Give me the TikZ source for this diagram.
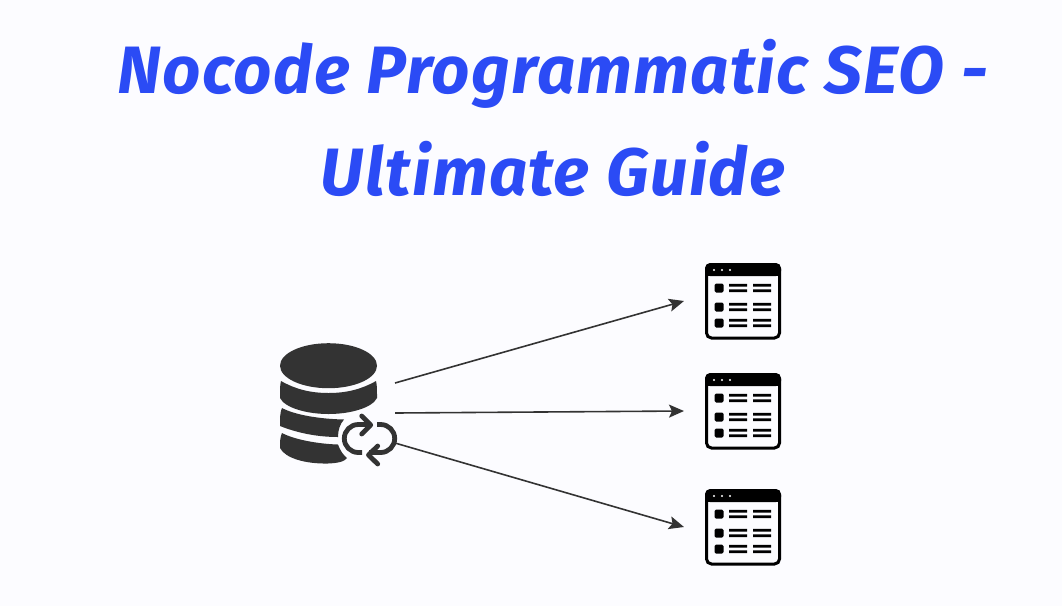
\documentclass[tikz,border=0pt]{standalone}
\usepackage{fontspec}
\newfontfamily\titlefont{Fira Sans}[ItalicFont={Fira Sans Italic},BoldItalicFont={Fira Sans Bold Italic},LetterSpace=2]
\usetikzlibrary{arrows.meta}
\definecolor{bgc}{HTML}{FCFCFF}
\definecolor{ink}{HTML}{333333}
\definecolor{titleblue}{HTML}{2B4BF5}
\tikzset{
  x=1pt,y=-1pt,
  titletext/.style={text=titleblue,inner sep=0pt,anchor=base,font=\titlefont\bfseries\itshape\fontsize{67}{67}\selectfont},
  link/.style={draw=ink,line width=1.6pt,-{Stealth[length=15pt,width=13pt,inset=3pt]}},
  syncline/.style={draw=ink,line width=4.8pt},
  syncchev/.style={draw=ink,line width=4.8pt,line cap=round,line join=round},
  anchorbox/.style={draw=none,inner sep=0pt,outer sep=0pt,minimum width=#1},
  pagepic/.pic={
    \draw[line width=3pt,rounded corners=5pt] (-36.5,-36.5) rectangle (36.5,37);
    \fill[rounded corners=5pt] (-38,-25) -- (-38,-38) -- (38,-38) -- (38,-25) -- cycle;
    \fill (-38,-28) rectangle (38,-25);
    \fill[white] (-29,-31) circle (1.2) (-21,-31) circle (1.2) (-13,-31) circle (1.2);
    \foreach \r in {-13,6,22}{
      \fill[rounded corners=1.5pt] (-28.5,\r-4.5) rectangle (-19.5,\r+4.5);
      \fill (-14,\r-4.2) rectangle (4,\r-1.3) (-14,\r+1.3) rectangle (4,\r+4.2);
      \fill (10,\r-4.2) rectangle (28,\r-1.3) (10,\r+1.3) rectangle (28,\r+4.2);
    }
  }
}
\begin{document}
\begin{tikzpicture}
\useasboundingbox[fill=bgc] (0,0) rectangle (1062,606);
\node[titletext] (t1) at (552.5,93) {Nocode Programmatic SEO -};
\node[titletext] (t2) at (553,195) {Ultimate Guide};
% database
\fill[ink] (328.5,365.7) ellipse (48.5 and 22.5);
\fill[ink] (281,381) .. controls (295,389) and (310,393) .. (328.5,393) .. controls (347,393) and (362,389) .. (376,381) .. controls (377,385) and (377,388) .. (377,398) .. controls (372,408) and (350,414) .. (328.5,414) .. controls (307,414) and (285,408) .. (280,398) .. controls (280,388) and (280,385) .. (281,381) -- cycle;
\fill[ink] (282,408) .. controls (295,415) and (320,419) .. (344,419.5) .. controls (340,424) and (338,430) .. (338,437) .. controls (315,437) and (295,432) .. (280,426) .. controls (280,418) and (280,412) .. (282,408) -- cycle;
\fill[ink] (282,433) .. controls (295,440) and (320,444) .. (338,444.5) .. controls (340,450) and (343,455) .. (347,458) .. controls (345,461) and (340,463) .. (328,463.5) .. controls (305,464) and (285,458) .. (280,448) .. controls (280,442) and (280,437) .. (282,433) -- cycle;
% sync
\draw[syncline] (370,424.5) -- (358.3,424.5) arc[start angle=-90,end angle=-270,radius=14] -- (362,452.5);
\draw[syncchev] (361.7,416) -- (370.7,425) -- (361.7,434);
\draw[syncline] (377,424.5) -- (380.7,424.5) arc[start angle=-90,end angle=90,radius=14] -- (369,452.5);
\draw[syncchev] (377.7,446) -- (368.5,455) -- (377.7,464);
% pages
\pic at (743,301) {pagepic};
\pic at (743,411) {pagepic};
\pic at (743,527) {pagepic};
\node[anchorbox=115pt,minimum height=60pt] (db) at (337.5,413) {};
\node[anchorbox=118pt] (p1) at (743,301) {};
\node[anchorbox=118pt] (p2) at (743,411) {};
\node[anchorbox=118pt] (p3) at (743,527) {};
\draw[link] (db.north east) -- (p1.west);
\draw[link] (db.east) -- (p2.west);
\draw[link] (db.south east) -- (p3.west);
\end{tikzpicture}
\end{document}
